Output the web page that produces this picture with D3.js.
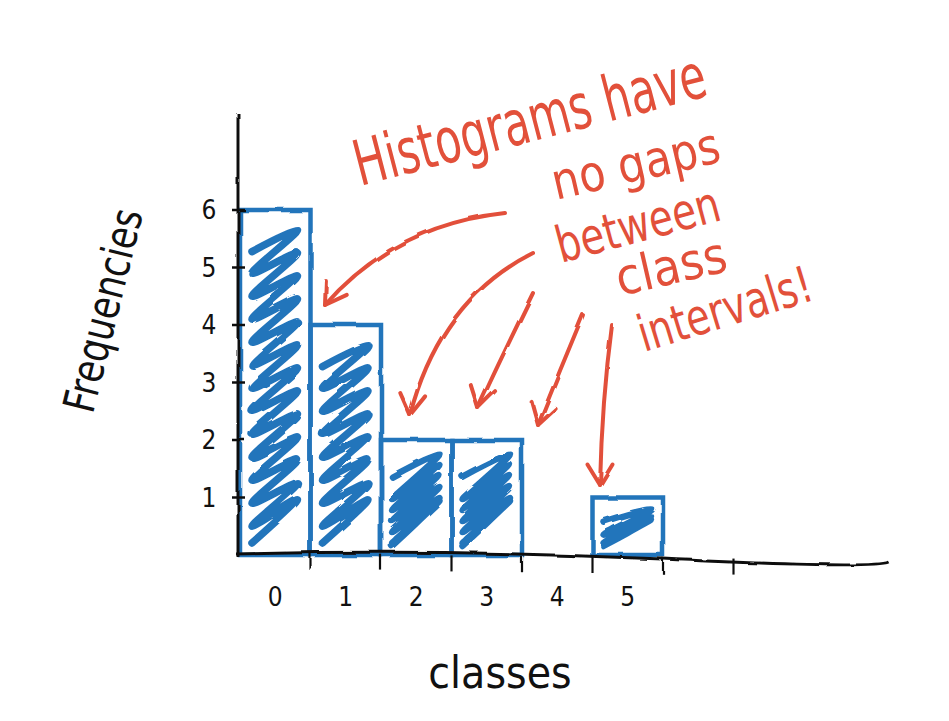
<!DOCTYPE html>
<html><head><meta charset="utf-8">
<script src="https://cdn.jsdelivr.net/npm/d3@7/dist/d3.min.js"></script>
<style>
html,body{margin:0;padding:0;background:#fff;}
svg{display:block;}
.hand{font-family:"DejaVu Sans Condensed","DejaVu Sans","Open Sans",sans-serif;}
</style></head>
<body>
<svg id="chart" width="949" height="721"></svg>
<script>
// ---- data ----
const classes = ["0","1","2","3","4","5"];
const frequencies = [6,4,2,2,0,1];
const yTickValues = [1,2,3,4,5,6];
const annotationLines = ["Histograms have","no gaps","between","class","intervals!"];
const xTitle = "classes";
const yTitle = "Frequencies";

const BLUE = "#2474bb", RED = "#e2503a", INK = "#111";
const svg = d3.select("#chart");
const defs = svg.append("defs");
const f = defs.append("filter").attr("id","rough").attr("x","-5%").attr("y","-5%").attr("width","110%").attr("height","110%");
f.append("feTurbulence").attr("type","fractalNoise").attr("baseFrequency",0.03).attr("numOctaves",2).attr("seed",3).attr("result","n");
f.append("feDisplacementMap").attr("in","SourceGraphic").attr("in2","n").attr("scale",3.5);

const x = d3.scaleLinear().domain([0,6]).range([240,663]);
const y = d3.scaleLinear().domain([0,6]).range([555,210]);

const g = svg.append("g").attr("filter","url(#rough)");

// bars
const bars = classes.map((c,i)=>({c, v:frequencies[i], x0:x(i), x1:x(i+1)})).filter(d=>d.v>0);

// scribble fill: diagonal "/" strokes joined by tight turns
const line = d3.line().curve(d3.curveCatmullRom.alpha(0.5));
bars.forEach(d=>{
  const tall = d.v>3;
  const pad = tall ? 10 : 9;
  const top = y(d.v) + (tall ? 20 : (d.v>1 ? 14 : 11));
  const bot = y(0) - (tall ? 12 : 9);
  const L = d.x0+pad+2, R = d.x1-pad-3;
  const w = R-L;
  const slant = Math.min(w*0.95, (bot-top)*0.7);
  const step = tall ? 23 : (d.v>1 ? 11 : 8);
  const pts = [[L, top+slant*0.5]];
  for(let yy=top; yy<=bot-slant+step; yy+=step){
    pts.push([R, Math.min(yy, bot-slant)]);
    pts.push([L, Math.min(yy+slant, bot)]);
  }
  g.append("path").attr("d",line(pts)).attr("fill","none")
    .attr("stroke",BLUE).attr("stroke-width",tall?7.5:6.5).attr("stroke-linecap","round").attr("stroke-linejoin","round");
});

// bar outlines
g.selectAll("rect.bar").data(bars).join("rect").attr("class","bar")
  .attr("x",d=>d.x0).attr("y",d=>y(d.v)).attr("width",d=>d.x1-d.x0).attr("height",d=>y(0)-y(d.v))
  .attr("fill","none").attr("stroke",BLUE).attr("stroke-width",4.5);

// axes
g.append("path").attr("d",`M${x(0)-2},${y(0)-442} L${x(0)-2},${y(0)+2}`).attr("stroke",INK).attr("stroke-width",3).attr("fill","none");
g.append("path").attr("d",`M${x(0)-4},${y(0)-1} Q${x(3)},${y(0)-6} ${x(6)},${y(0)+4} T${x(9.2)},${y(0)+7}`).attr("stroke",INK).attr("stroke-width",3).attr("fill","none");

// y ticks
g.selectAll("line.yt").data(yTickValues).join("line").attr("class","yt")
  .attr("x1",x(0)-8).attr("x2",x(0)+5).attr("y1",d=>y(d)).attr("y2",d=>y(d))
  .attr("stroke",INK).attr("stroke-width",2.5);
svg.selectAll("text.yl").data(yTickValues).join("text").attr("class","yl hand")
  .attr("x",x(0)-31).attr("y",d=>y(d)+9).attr("text-anchor","middle")
  .attr("font-size",26).attr("font-weight",300).attr("fill",INK).text(d=>d);

// x ticks
const xEdges = d3.range(1,8);
g.selectAll("line.xt").data(xEdges).join("line").attr("class","xt")
  .attr("x1",d=>x(d)).attr("x2",d=>x(d)).attr("y1",d=>y(0)-2+d*0.8).attr("y2",d=>y(0)+14+d*0.8)
  .attr("stroke",INK).attr("stroke-width",2.2);
svg.selectAll("text.xl").data(classes).join("text").attr("class","xl hand")
  .attr("x",(d,i)=>x(i+0.5)).attr("y",606).attr("text-anchor","middle")
  .attr("font-size",26).attr("fill",INK).text(d=>d);

// titles
svg.append("text").attr("class","hand").attr("x",500).attr("y",688).attr("text-anchor","middle")
  .attr("font-size",44).attr("fill",INK).text(xTitle);
svg.append("text").attr("class","hand").attr("transform","translate(118,314) rotate(-76) scale(0.92,1.05)").attr("text-anchor","middle")
  .attr("font-size",42).attr("fill",INK).text(yTitle);

// annotation text
const ann = [
  {t:annotationLines[0], x:360, y:186, r:-14.5, s:60, sx:0.79},
  {t:annotationLines[1], x:556, y:200, r:-13, s:48, sx:1.0},
  {t:annotationLines[2], x:561, y:263, r:-15, s:48, sx:0.9},
  {t:annotationLines[3], x:620, y:296, r:-13, s:48, sx:1.05},
  {t:annotationLines[4], x:644, y:352, r:-17, s:48, sx:0.88}
];
svg.selectAll("text.ann").data(ann).join("text").attr("class","ann hand")
  .attr("transform",d=>`translate(${d.x},${d.y}) rotate(${d.r}) scale(${d.sx},1.05)`)
  .attr("font-size",d=>d.s).attr("fill",RED).text(d=>d.t);

// arrows
const arrows = [
  {d:"M505,213 Q395,225 325,305", tip:[325,305], from:[345,275]},
  {d:"M533,253 Q440,300 410,415", tip:[410,415], from:[414,385]},
  {d:"M533,293 Q505,350 478,408", tip:[478,408], from:[485,380]},
  {d:"M583,315 Q560,370 538,425", tip:[538,425], from:[546,397]},
  {d:"M612,325 Q602,400 600,485", tip:[600,485], from:[600,455]}
];
const ag = svg.append("g").attr("filter","url(#rough)");
arrows.forEach(a=>{
  ag.append("path").attr("d",a.d).attr("fill","none").attr("stroke",RED).attr("stroke-width",4).attr("stroke-linecap","round");
  const dx=a.tip[0]-a.from[0], dy=a.tip[1]-a.from[1];
  const ang=Math.atan2(dy,dx), len=24, spread=0.55;
  const p1=[a.tip[0]-len*Math.cos(ang-spread), a.tip[1]-len*Math.sin(ang-spread)];
  const p2=[a.tip[0]-len*Math.cos(ang+spread), a.tip[1]-len*Math.sin(ang+spread)];
  ag.append("path").attr("d",`M${p1[0]},${p1[1]} L${a.tip[0]},${a.tip[1]} L${p2[0]},${p2[1]}`)
    .attr("fill","none").attr("stroke",RED).attr("stroke-width",4).attr("stroke-linecap","round").attr("stroke-linejoin","round");
});
</script>
</body></html>
